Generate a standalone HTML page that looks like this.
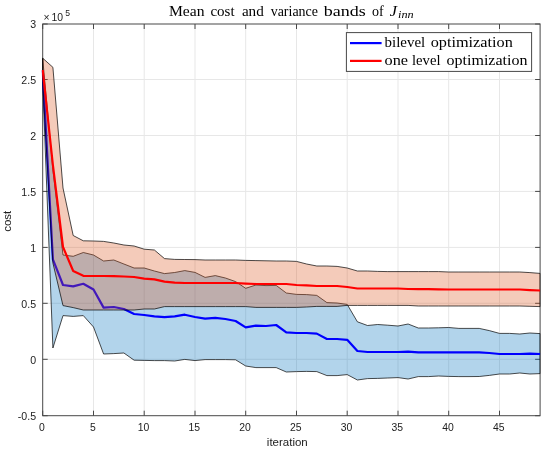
<!DOCTYPE html>
<html><head><meta charset="utf-8"><title>Mean cost and variance bands</title>
<style>
html,body{margin:0;padding:0;background:#fff;}
svg{display:block;}
.t{font-family:"Liberation Sans",sans-serif;fill:#1c1c1c;}
.s{font-family:"Liberation Serif",serif;fill:#000;}
</style></head><body>
<svg width="550" height="453" viewBox="0 0 550 453">
<rect width="550" height="453" fill="#fff"/>
<path d="M93.5 24.0V415.7M144.2 24.0V415.7M195.0 24.0V415.7M245.7 24.0V415.7M296.5 24.0V415.7M347.2 24.0V415.7M398.0 24.0V415.7M448.7 24.0V415.7M499.5 24.0V415.7M42.7 79.5H540.1M42.7 135.5H540.1M42.7 191.4H540.1M42.7 247.4H540.1M42.7 303.3H540.1M42.7 359.3H540.1" stroke="#e7e7e7" stroke-width="1" fill="none"/>
<path d="M42.7 415.7v-5M42.7 24.0v5M93.5 415.7v-5M93.5 24.0v5M144.2 415.7v-5M144.2 24.0v5M195.0 415.7v-5M195.0 24.0v5M245.7 415.7v-5M245.7 24.0v5M296.5 415.7v-5M296.5 24.0v5M347.2 415.7v-5M347.2 24.0v5M398.0 415.7v-5M398.0 24.0v5M448.7 415.7v-5M448.7 24.0v5M499.5 415.7v-5M499.5 24.0v5M42.7 24.0h5M540.1 24.0h-5M42.7 79.5h5M540.1 79.5h-5M42.7 135.5h5M540.1 135.5h-5M42.7 191.4h5M540.1 191.4h-5M42.7 247.4h5M540.1 247.4h-5M42.7 303.3h5M540.1 303.3h-5M42.7 359.3h5M540.1 359.3h-5M42.7 415.7h5M540.1 415.7h-5" stroke="#484848" stroke-width="1" fill="none"/>
<rect x="42.7" y="24.0" width="497.4" height="391.7" fill="none" stroke="#484848" stroke-width="1"/>
<clipPath id="c"><rect x="41.5" y="24.0" width="499.2" height="391.7"/></clipPath>
<g clip-path="url(#c)">
<polygon points="42.7,58.5 52.9,170.0 63.0,255.0 73.2,256.3 83.3,252.5 93.5,255.0 103.6,261.0 113.8,260.0 123.9,264.0 134.1,268.0 144.2,268.0 154.4,271.0 164.5,273.6 174.7,272.5 184.8,270.6 195.0,272.4 205.1,277.4 215.3,275.6 225.4,278.0 235.6,281.6 245.7,288.3 255.9,285.0 266.0,285.6 276.2,285.4 286.3,293.0 296.5,294.4 306.6,294.6 316.8,295.4 326.9,302.6 337.1,303.0 347.2,304.4 357.4,321.8 367.5,325.5 377.7,324.5 387.8,325.2 398.0,326.0 408.1,324.0 418.3,328.0 428.4,328.0 438.6,327.8 448.7,327.5 458.9,328.4 469.0,328.4 479.2,328.4 489.3,330.6 499.5,333.4 509.6,333.4 519.8,334.0 529.9,333.0 540.1,333.6 540.1,373.6 529.9,374.0 519.8,373.0 509.6,374.0 499.5,374.0 489.3,375.4 479.2,376.5 469.0,376.6 458.9,376.6 448.7,376.4 438.6,376.0 428.4,376.6 418.3,376.6 408.1,379.0 398.0,377.6 387.8,378.0 377.7,378.4 367.5,378.6 357.4,380.0 347.2,374.6 337.1,375.6 326.9,375.6 316.8,371.6 306.6,371.4 296.5,371.6 286.3,372.0 276.2,367.6 266.0,367.6 255.9,367.6 245.7,366.0 235.6,359.8 225.4,359.6 215.3,359.6 205.1,359.6 195.0,360.6 184.8,359.4 174.7,361.0 164.5,360.6 154.4,360.6 144.2,360.4 134.1,360.2 123.9,353.0 113.8,353.6 103.6,354.0 93.5,327.0 83.3,315.6 73.2,316.4 63.0,315.6 52.9,348.0 42.7,82.5" fill="#0072bd" fill-opacity="0.3" stroke="#000" stroke-width="0.7" stroke-linejoin="round"/>
<polyline points="42.7,70.5 52.9,259.3 63.0,285.0 73.2,286.4 83.3,283.8 93.5,289.5 103.6,307.6 113.8,307.0 123.9,309.0 134.1,314.0 144.2,315.0 154.4,316.4 164.5,317.2 174.7,316.4 184.8,314.7 195.0,317.0 205.1,318.6 215.3,317.8 225.4,319.0 235.6,321.0 245.7,327.4 255.9,325.6 266.0,326.0 276.2,325.0 286.3,332.4 296.5,333.0 306.6,333.0 316.8,333.6 326.9,339.0 337.1,339.0 347.2,339.8 357.4,351.0 367.5,352.0 377.7,352.0 387.8,352.0 398.0,352.0 408.1,351.6 418.3,352.4 428.4,352.4 438.6,352.4 448.7,352.4 458.9,352.4 469.0,352.4 479.2,352.4 489.3,353.0 499.5,354.0 509.6,354.0 519.8,354.0 529.9,353.6 540.1,354.0" fill="none" stroke="#0000ff" stroke-width="2.2" stroke-linejoin="round"/>
<polygon points="42.7,58.2 52.9,67.3 63.0,188.0 73.2,235.5 83.3,240.8 93.5,241.0 103.6,241.4 113.8,243.0 123.9,245.0 134.1,246.0 144.2,249.2 154.4,250.0 164.5,258.6 174.7,259.4 184.8,259.5 195.0,259.6 205.1,260.0 215.3,260.0 225.4,260.0 235.6,260.0 245.7,260.4 255.9,260.6 266.0,260.8 276.2,261.0 286.3,261.0 296.5,261.4 306.6,264.0 316.8,266.0 326.9,266.0 337.1,266.4 347.2,268.0 357.4,271.0 367.5,271.0 377.7,271.4 387.8,271.6 398.0,271.6 408.1,271.6 418.3,271.6 428.4,271.6 438.6,271.6 448.7,272.0 458.9,272.0 469.0,272.0 479.2,272.0 489.3,272.0 499.5,272.0 509.6,272.0 519.8,272.0 529.9,272.6 540.1,273.4 540.1,306.6 529.9,306.3 519.8,306.0 509.6,306.0 499.5,306.0 489.3,306.0 479.2,306.0 469.0,306.0 458.9,306.0 448.7,306.0 438.6,306.0 428.4,306.0 418.3,306.0 408.1,305.4 398.0,305.4 387.8,305.4 377.7,305.4 367.5,305.4 357.4,305.4 347.2,305.4 337.1,306.4 326.9,306.4 316.8,306.4 306.6,307.0 296.5,307.4 286.3,307.4 276.2,307.4 266.0,307.4 255.9,307.4 245.7,306.6 235.6,306.6 225.4,306.6 215.3,306.6 205.1,306.6 195.0,306.6 184.8,306.6 174.7,306.6 164.5,306.6 154.4,309.0 144.2,309.0 134.1,310.0 123.9,310.0 113.8,310.0 103.6,310.0 93.5,310.0 83.3,310.0 73.2,307.6 63.0,305.6 52.9,263.0 42.7,81.8" fill="#d95319" fill-opacity="0.3" stroke="#000" stroke-width="0.7" stroke-linejoin="round"/>
<polyline points="42.7,70.0 52.9,165.0 63.0,247.0 73.2,271.0 83.3,275.8 93.5,276.0 103.6,276.0 113.8,276.2 123.9,276.5 134.1,277.0 144.2,278.6 154.4,279.4 164.5,281.6 174.7,282.6 184.8,283.0 195.0,283.0 205.1,283.0 215.3,283.0 225.4,283.0 235.6,283.0 245.7,283.6 255.9,284.0 266.0,284.0 276.2,284.0 286.3,284.0 296.5,285.0 306.6,285.4 316.8,286.0 326.9,286.0 337.1,286.0 347.2,287.0 357.4,288.5 367.5,288.5 377.7,288.5 387.8,288.5 398.0,288.5 408.1,289.0 418.3,289.1 428.4,289.2 438.6,289.3 448.7,289.5 458.9,289.5 469.0,289.5 479.2,289.5 489.3,289.5 499.5,289.5 509.6,289.5 519.8,289.5 529.9,290.1 540.1,290.5" fill="none" stroke="#ff0000" stroke-width="2.2" stroke-linejoin="round"/>
</g>
<text class="t" x="42.0" y="430.7" font-size="10.4" text-anchor="middle">0</text>
<text class="t" x="92.8" y="430.7" font-size="10.4" text-anchor="middle">5</text>
<text class="t" x="143.5" y="430.7" font-size="10.4" text-anchor="middle">10</text>
<text class="t" x="194.3" y="430.7" font-size="10.4" text-anchor="middle">15</text>
<text class="t" x="245.0" y="430.7" font-size="10.4" text-anchor="middle">20</text>
<text class="t" x="295.8" y="430.7" font-size="10.4" text-anchor="middle">25</text>
<text class="t" x="346.5" y="430.7" font-size="10.4" text-anchor="middle">30</text>
<text class="t" x="397.3" y="430.7" font-size="10.4" text-anchor="middle">35</text>
<text class="t" x="448.0" y="430.7" font-size="10.4" text-anchor="middle">40</text>
<text class="t" x="498.8" y="430.7" font-size="10.4" text-anchor="middle">45</text>
<text class="t" x="36.1" y="28.3" font-size="10.6" text-anchor="end">3</text>
<text class="t" x="36.1" y="84.1" font-size="10.6" text-anchor="end">2.5</text>
<text class="t" x="36.1" y="140.1" font-size="10.6" text-anchor="end">2</text>
<text class="t" x="36.1" y="196.0" font-size="10.6" text-anchor="end">1.5</text>
<text class="t" x="36.1" y="252.0" font-size="10.6" text-anchor="end">1</text>
<text class="t" x="36.1" y="307.9" font-size="10.6" text-anchor="end">0.5</text>
<text class="t" x="36.1" y="363.9" font-size="10.6" text-anchor="end">0</text>
<text class="t" x="36.1" y="419.9" font-size="10.6" text-anchor="end">-0.5</text>
<text class="t" x="43.4" y="20.8" font-size="10.4">×</text><text class="t" x="51.6" y="20.8" font-size="10.4">10</text>
<text class="t" x="65.2" y="16.1" font-size="8.6">5</text>
<text class="t" x="287.3" y="446" font-size="11.5" text-anchor="middle">iteration</text>
<text class="t" transform="translate(11.2,221.3) rotate(-90)" font-size="11.5" text-anchor="middle">cost</text>
<text class="s" x="168.9" y="15.5" font-size="14" textLength="35.6" lengthAdjust="spacingAndGlyphs">Mean</text>
<text class="s" x="210.4" y="15.5" font-size="14" textLength="24.2" lengthAdjust="spacingAndGlyphs">cost</text>
<text class="s" x="241.9" y="15.5" font-size="14" textLength="21.9" lengthAdjust="spacingAndGlyphs">and</text>
<text class="s" x="270.7" y="15.5" font-size="14" textLength="47.3" lengthAdjust="spacingAndGlyphs">variance</text>
<text class="s" x="323.8" y="15.5" font-size="14" textLength="42.0" lengthAdjust="spacingAndGlyphs">bands</text>
<text class="s" x="371.9" y="15.5" font-size="14" textLength="11.7" lengthAdjust="spacingAndGlyphs">of</text>
<text class="s" x="389.8" y="15.5" font-size="14" font-style="italic" textLength="7.2" lengthAdjust="spacingAndGlyphs">J</text>
<text class="s" x="398.0" y="17.6" font-size="10" font-style="italic" textLength="15.6" lengthAdjust="spacingAndGlyphs">inn</text>
<rect x="346.4" y="32.6" width="185.2" height="38.8" fill="#fff" stroke="#484848" stroke-width="1"/>
<path d="M350 43.1H381.6" stroke="#0000ff" stroke-width="2.2"/>
<path d="M350 60.9H381.6" stroke="#ff0000" stroke-width="2.2"/>
<text class="s" x="384.5" y="46.7" font-size="14.4" textLength="40.7" lengthAdjust="spacingAndGlyphs">bilevel</text>
<text class="s" x="430.7" y="46.7" font-size="14.4" textLength="82.1" lengthAdjust="spacingAndGlyphs">optimization</text>
<text class="s" x="384.5" y="64.7" font-size="14.4" textLength="23.5" lengthAdjust="spacingAndGlyphs">one</text>
<text class="s" x="412.0" y="64.7" font-size="14.4" textLength="28.5" lengthAdjust="spacingAndGlyphs">level</text>
<text class="s" x="446.5" y="64.7" font-size="14.4" textLength="81.0" lengthAdjust="spacingAndGlyphs">optimization</text>
</svg></body></html>
